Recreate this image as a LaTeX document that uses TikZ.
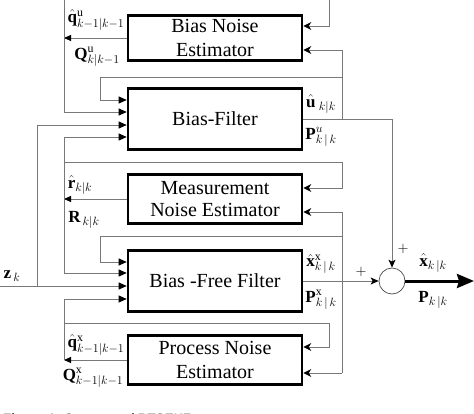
\documentclass[tikz,border=0pt]{standalone}
\usepackage{fontspec}
\setmainfont{Liberation Serif}
\newfontfamily\capfont{Liberation Sans}
\usetikzlibrary{arrows.meta}
\definecolor{wiregray}{RGB}{120,120,120}
\begin{document}
\begin{tikzpicture}[x=1pt,y=-1pt,
  blk/.style={draw=black, line width=2.6pt, minimum width=174pt, inner sep=0pt,
    align=center, font=\fontsize{20}{24}\selectfont},
  wire/.style={draw=wiregray, line width=0.9pt},
  inL/.style={wire, -{Triangle[length=8pt,width=7pt,color=black]}},
  inR/.style={wire, -{Stealth[length=8pt,width=8pt,inset=2.5pt,color=black]}},
  outL/.style={wire, -{Triangle[length=7pt,width=6pt,color=black]}},
  sumarr/.style={wire, -{Stealth[length=8pt,width=7pt,inset=2pt,color=black]}},
  bigarr/.style={draw=black, line width=3pt, -{Stealth[length=17pt,width=14pt,inset=2pt]}},
  lbl/.style={inner sep=0pt, font=\fontsize{17}{19}\selectfont},
  pls/.style={inner sep=0pt, font=\fontsize{15}{16}\selectfont}
]
\useasboundingbox (0,0) rectangle (474,414);

% blocks
\node[blk, minimum height=45.4pt] (b1) at (215,38) {Bias Noise\\Estimator};
\node[blk, minimum height=61.4pt] (b2) at (215,119) {Bias-Filter};
\node[blk, minimum height=49.4pt, font=\fontsize{20}{22}\selectfont] (b3) at (215,199) {Measurement\\Noise Estimator};
\node[blk, minimum height=60.4pt] (b4) at (215,281) {Bias -Free Filter};
\node[blk, minimum height=49.4pt] (b5) at (215,360) {Process Noise\\Estimator};

% summing junction
\node[circle, draw=black!70, line width=0.7pt, minimum size=26pt, inner sep=0pt] (sum) at (392,281) {};
\coordinate (zin) at (0,286);
\coordinate (out) at (474,281);

% Bias noise estimator output bus
\draw[outL] (b1.west) -- (b1.west -| 64,0);
\draw[wire] (64,-2) -- (64,112);
\draw[inR] (64,-2) -- (329,-2) -- (329,26) -- (b1.east |- 0,26);
\draw[inL] (64,112) -- (b2.west |- 0,112);

% Bias-filter output
\draw[sumarr] (b2.east) -| (sum.north);
\draw[inR] (342,119) -- (342,50) -- (b1.east |- 0,50);
\draw[inL] (342,77) -- (100,77) -- (100,100) -- (b2.west |- 0,100);

% measurement noise estimator output bus
\draw[outL] (b3.west) -- (b3.west -| 64,0);
\draw[wire] (64,137) -- (64,273);
\draw[inL] (64,137) -- (b2.west |- 0,137);
\draw[inL] (64,273) -- (b4.west |- 0,273);
\draw[inR] (64,162) -- (342,162) -- (342,188) -- (b3.east |- 0,188);

% measurement z_k
\draw[inL] (zin) -- (b4.west |- zin);
\draw[inL] (37,286) -- (37,125) -- (b2.west |- 0,125);

% bias-free filter output
\draw[sumarr] (b4.east) -- (sum.west);
\draw[wire] (342,212) -- (342,373);
\draw[inR] (342,212) -- (b3.east |- 0,212);
\draw[inR] (342,373) -- (b5.east |- 0,373);
\draw[inL] (342,236) -- (100,236) -- (100,262) -- (b4.west |- 0,262);

% process noise estimator output bus
\draw[outL] (b5.west) -- (b5.west -| 64,0);
\draw[wire] (64,299) -- (64,360);
\draw[inL] (64,299) -- (b4.west |- 0,299);
\draw[inR] (64,323) -- (329,323) -- (329,347) -- (b5.east |- 0,347);

% output
\draw[bigarr] (sum.east) -- (out);

% labels
\node[lbl] (lqu) at (96,20) {$\hat{\mathbf{q}}^{\mathrm{u}}_{k-1|k-1}$};
\node[lbl] (lQu) at (97,57) {$\mathbf{Q}^{\mathrm{u}}_{k|k-1}$};
\node[lbl] (lr) at (80,185) {$\hat{\mathbf{r}}_{k|k}$};
\node[lbl] (lR) at (84,220) {$\mathbf{R}_{\,k|k}$};
\node[lbl] (lqx) at (96,345) {$\hat{\mathbf{q}}^{\mathrm{x}}_{k-1|k-1}$};
\node[lbl] (lQx) at (93,378) {$\mathbf{Q}^{\mathrm{x}}_{k-1|k-1}$};
\node[lbl] (lz) at (12,276) {$\mathbf{z}_{\,k}$};
\node[lbl] (lu) at (321,104) {$\hat{\mathbf{u}}_{\;k|k}$};
\node[lbl] (lPu) at (321,137) {$\mathbf{P}^{u}_{k\,|\,k}$};
\node[lbl] (lxx) at (321,264) {$\hat{\mathbf{x}}^{\mathrm{x}}_{k\,|\,k}$};
\node[lbl] (lPx) at (321,300) {$\mathbf{P}^{\mathrm{x}}_{k\,|\,k}$};
\node[lbl] (lx) at (433,263) {$\hat{\mathbf{x}}_{k\,|k}$};
\node[lbl] (lP) at (433,300) {$\mathbf{P}_{k\,|k}$};
\node[pls] (p1) at (403,249) {$+$};
\node[pls] (p2) at (361,272) {$+$};

% truncated caption
\node[anchor=base west, inner sep=0pt, font=\capfont\fontsize{13.5}{15}\selectfont, text=black!85] (cap) at (3,423) {\textbf{Figure 1.} Structure of RTSEKF};
\end{tikzpicture}
\end{document}
